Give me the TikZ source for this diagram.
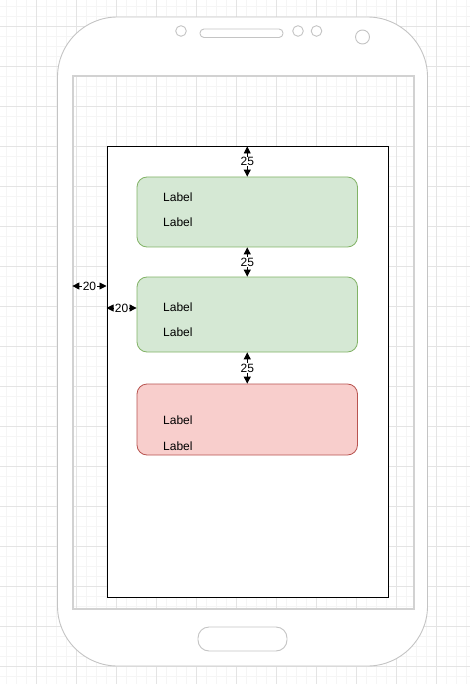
\documentclass[tikz,border=0pt]{standalone}
\usepackage{fontspec}
\setmainfont{Liberation Sans}
\usetikzlibrary{arrows.meta}
\definecolor{gridminor}{HTML}{F5F5F5}
\definecolor{gridmajor}{HTML}{E4E4E4}
\definecolor{phonegray}{HTML}{C4C4C4}
\definecolor{screengray}{HTML}{D2D2D2}
\definecolor{cardgreen}{HTML}{D5E8D4}
\definecolor{cardgreenline}{HTML}{82B366}
\definecolor{cardred}{HTML}{F8CECC}
\definecolor{cardredline}{HTML}{B85450}

\begin{document}
\begin{tikzpicture}[x=1pt, y=-1pt, font=\fontsize{12}{14}\selectfont,
  card/.style={rounded corners=10pt, minimum width=220.5pt, line width=0.8pt, inner sep=0pt},
  dim/.style={{Triangle[width=7pt,length=7pt]}-{Triangle[width=7pt,length=7pt]}, line width=0.9pt},
  dimlabel/.style={fill=white, inner sep=0.4pt, font=\fontsize{12}{13}\selectfont},
  cardtext/.style={anchor=west, inner sep=0pt}]
  \useasboundingbox (0,0) rectangle (470,684);

  % --- Background grid ---
  \foreach \x in {6.7,16.7,...,466.7} \draw[gridminor, line width=0.6pt] (\x,0) -- (\x,684);
  \foreach \y in {6.7,16.7,...,676.7} \draw[gridminor, line width=0.6pt] (0,\y) -- (470,\y);
  \foreach \x in {36.7,76.7,...,436.7} \draw[gridmajor, line width=0.6pt] (\x,0) -- (\x,684);
  \foreach \y in {26.7,66.7,...,666.7} \draw[gridmajor, line width=0.6pt] (0,\y) -- (470,\y);

  % --- Phone body (white, screen left open) ---
  \fill[white, even odd rule] (57.5,17) [rounded corners=60pt] rectangle (427.5,666)
    [sharp corners] (73,76) rectangle (414,609);
  \node[draw=phonegray, line width=0.9pt, rounded corners=60pt, minimum width=370pt,
    minimum height=649pt, inner sep=0pt] (phone) at (242.5,341.5) {};
  \node[draw=screengray, line width=1.3pt, minimum width=341pt, minimum height=533pt,
    inner sep=0pt] (screen) at (243.5,342.5) {};

  % --- Speaker, sensors, camera, home button ---
  \draw[phonegray, line width=0.9pt, rounded corners=4pt] (200,29) rectangle (283,37.5);
  \draw[phonegray, line width=0.9pt] (181,31) circle (5.3pt);
  \draw[phonegray, line width=0.9pt] (298,31) circle (5.3pt);
  \draw[phonegray, line width=0.9pt] (316.5,31) circle (5.3pt);
  \draw[phonegray, line width=0.9pt] (362.5,37) circle (7pt);
  \draw[phonegray, line width=0.9pt, rounded corners=11pt] (198,627) rectangle (287,651);

  % --- Content frame ---
  \node[draw=black, fill=white, line width=1pt, minimum width=281pt, minimum height=450pt,
    inner sep=0pt] (frame) at (247.5,372) {};

  % --- Cards ---
  \node[card, draw=cardgreenline, fill=cardgreen, minimum height=70pt] (card1) at (247.25,212) {};
  \node[card, draw=cardgreenline, fill=cardgreen, minimum height=75pt] (card2) at (247.25,314.5) {};
  \node[card, draw=cardredline, fill=cardred, minimum height=71pt] (card3) at (247.25,419.5) {};

  \node[cardtext] (card1a) at (163,197.7) {Label};
  \node[cardtext] (card1b) at (163,222.3) {Label};
  \node[cardtext] (card2a) at (163,307.7) {Label};
  \node[cardtext] (card2b) at (163,332.3) {Label};
  \node[cardtext] (card3a) at (163,420.7) {Label};
  \node[cardtext] (card3b) at (163,446) {Label};

  % --- Spacing marks ---
  \coordinate (gapscreen) at (0,286);
  \coordinate (gapframe) at (0,308);
  \draw[dim] (card1.north |- frame.north) -- node[dimlabel] (gap0) {25} (card1.north);
  \draw[dim] (card1.south) -- node[dimlabel] (gap1) {25} (card2.north);
  \draw[dim] (card2.south) -- node[dimlabel] (gap2) {25} (card3.north);
  \draw[dim] (screen.west |- gapscreen) -- node[dimlabel] (side0) {20} (frame.west |- gapscreen);
  \draw[dim] (frame.west |- gapframe) -- node[dimlabel] (side1) {20} (card2.west |- gapframe);
\end{tikzpicture}
\end{document}
